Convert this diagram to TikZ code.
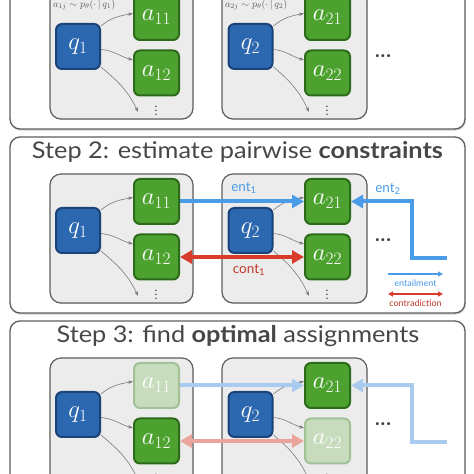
\documentclass[tikz,border=0pt]{standalone}
\usepackage{fontspec}
\setmainfont{Lato}
\setsansfont{Lato}
\newfontfamily\titlefont[FakeStretch=1.1]{Lato}
\usetikzlibrary{arrows.meta,shadows}
\definecolor{qblue}{HTML}{2C68B0}
\definecolor{qblueD}{HTML}{1B4378}
\definecolor{agreen}{HTML}{4DA22F}
\definecolor{agreenD}{HTML}{2C6B1A}
\definecolor{fgreen}{HTML}{C6DCBD}
\definecolor{fgreenD}{HTML}{A2C197}
\definecolor{entc}{HTML}{4A9BE8}
\definecolor{contc}{HTML}{D93C2B}
\definecolor{contt}{HTML}{C0392B}
\definecolor{fentc}{HTML}{A8CBEF}
\definecolor{fcontc}{HTML}{EAA49A}
\definecolor{innerfill}{HTML}{ECECEC}
\definecolor{bord}{HTML}{5E5E5E}
\definecolor{titlec}{HTML}{474747}
\definecolor{garc}{HTML}{7A7A7A}
\tikzset{
  panelbox/.style={draw=bord, line width=1.3pt, rounded corners=10pt, fill=white,
    drop shadow={opacity=0.35, shadow xshift=0.6pt, shadow yshift=-1.6pt}},
  innerbox/.style={draw=bord, line width=1.2pt, rounded corners=11pt, fill=innerfill,
    drop shadow={opacity=0.2, shadow xshift=0.4pt, shadow yshift=-1pt}},
  qbox/.style={draw=qblueD, line width=2pt, fill=qblue, rounded corners=6pt,
    minimum width=44pt, minimum height=45pt, inner sep=0pt, text=white,
    font=\fontsize{23.5}{23.5}\selectfont},
  abox/.style={draw=agreenD, line width=2pt, fill=agreen, rounded corners=6pt,
    minimum width=45pt, minimum height=45pt, inner sep=0pt, text=white,
    font=\fontsize{23.5}{23.5}\selectfont},
  fadebox/.style={abox, draw=fgreenD, fill=fgreen},
  garrow/.style={draw=garc, line width=0.6pt, -{Stealth[length=5pt,width=3.5pt]}},
  vdotsn/.style={inner sep=0pt, text=black!75, font=\fontsize{12}{12}\selectfont},
  hdotsn/.style={inner sep=0pt, text=black!75, font=\fontsize{8}{8}\selectfont},
  titletext/.style={text=titlec, font=\titlefont\fontsize{23}{23}\selectfont, inner sep=0pt},
  smalllab/.style={text=black!65, font=\fontsize{9.8}{9.8}\selectfont, inner sep=0pt, anchor=west},
  entarrow/.style={draw=entc, line width=4pt, -{Triangle[length=12pt,width=13pt]}},
  contarrow/.style={draw=contc, line width=4pt, {Triangle[length=12pt,width=13pt]}-{Triangle[length=12pt,width=13pt]}},
  fentarrow/.style={entarrow, draw=fentc},
  fcontarrow/.style={contarrow, draw=fcontc},
  annot/.style={font=\fontsize{13.5}{13.5}\selectfont, inner sep=0pt},
  legtext/.style={font=\fontsize{9}{9}\selectfont, inner sep=0pt},
  legent/.style={draw=entc, line width=1.2pt, -{Triangle[length=5pt,width=5pt]}},
  legcont/.style={draw=contc, line width=1.2pt, {Triangle[length=5pt,width=5pt]}-{Triangle[length=5pt,width=5pt]}},
}
% #1 suffix, #2..#5 styles of a11 a12 a21 a22
\newcommand\drawpanel[5]{%
  \draw[innerbox] (50,171) rectangle (193,300);
  \draw[innerbox] (222,171) rectangle (367,300);
  \node[qbox] (q1#1) at (78,243.5) {$q_1$};
  \node[#2] (a11#1) at (156.5,272.5) {$a_{11}$};
  \node[#3] (a12#1) at (156.5,217) {$a_{12}$};
  \node[vdotsn] (d1#1) at (156,182) {$\vdots$};
  \node[qbox] (q2#1) at (250.5,243.5) {$q_2$};
  \node[#4] (a21#1) at (327.5,272.5) {$a_{21}$};
  \node[#5] (a22#1) at (327.5,217) {$a_{22}$};
  \node[vdotsn] (d2#1) at (327,182) {$\vdots$};
  \node[hdotsn] (h#1) at (383,233) {\textbullet\hspace{1pt}\textbullet\hspace{1pt}\textbullet};
  \coordinate (t1#1) at (138,178);
  \coordinate (t2#1) at (309,178);
  \draw[garrow] ([yshift=-3pt]q1#1.north east) to[out=40,in=190] ([yshift=4pt]a11#1.west);
  \draw[garrow] ([yshift=-3pt]q1#1.east) to[out=-5,in=165] ([yshift=13pt]a12#1.west);
  \draw[garrow] ([yshift=3pt]q1#1.south east) to[out=-40,in=115] (t1#1);
  \draw[garrow] ([yshift=-3pt]q2#1.north east) to[out=40,in=190] ([yshift=4pt]a21#1.west);
  \draw[garrow] ([yshift=-3pt]q2#1.east) to[out=-5,in=165] ([yshift=13pt]a22#1.west);
  \draw[garrow] ([yshift=3pt]q2#1.south east) to[out=-40,in=115] (t2#1);
}
\begin{document}
\begin{tikzpicture}[x=1pt,y=1pt]
\useasboundingbox (0,0) rectangle (474,474);
\clip (0,0) rectangle (474,474);
\fill[white] (0,0) rectangle (474,474);
% ---------- Step 1 (top, cropped) ----------
\begin{scope}[yshift=184pt]
  \draw[panelbox] (10,161) rectangle (465,340);
  \drawpanel{A}{abox}{abox}{abox}{abox}
  \node[smalllab] (l1A) at (53,285) {$a_{1j}\sim p_\theta(\cdot\,|\,q_1)$};
  \node[smalllab] (l2A) at (225,285) {$a_{2j}\sim p_\theta(\cdot\,|\,q_2)$};
\end{scope}
% ---------- Step 2 ----------
\draw[panelbox] (10,161) rectangle (465,337);
\node[titletext] (title2) at (237.5,322) {Step 2: estimate pairwise \textbf{constraints}};
\drawpanel{B}{abox}{abox}{abox}{abox}
\draw[entarrow] (a11B.east) -- (a21B.west);
\coordinate (e2B) at (447,216);
\coordinate (k2B) at (412,216);
\draw[entarrow] (e2B) -- (k2B) |- (a21B.east);
\draw[contarrow] (a12B.east) -- (a22B.west);
\node[annot, text=entc] (ent1) at (244,286) {ent\textsubscript{1}};
\node[annot, text=entc] (ent2) at (388,285) {ent\textsubscript{2}};
\node[annot, text=contt] (cont1) at (249,204) {cont\textsubscript{1}};
\coordinate (le1) at (388,200);
\coordinate (le2) at (443,200);
\draw[legent] (le1) -- (le2);
\node[legtext, text=entc] (lt1) at (415.5,191) {entailment};
\coordinate (lc1) at (388,180);
\coordinate (lc2) at (443,180);
\draw[legcont] (lc1) -- (lc2);
\node[legtext, text=contt] (lt2) at (415.5,171) {contradiction};
% ---------- Step 3 (bottom, cropped) ----------
\begin{scope}[yshift=-184pt]
  \draw[panelbox] (10,-40) rectangle (465,337);
  \node[titletext] (title3) at (238,322) {Step 3: find \textbf{optimal} assignments};
  \drawpanel{C}{fadebox}{abox}{abox}{fadebox}
  \draw[fentarrow] (a11C.east) -- (a21C.west);
  \coordinate (e2C) at (447,216);
  \coordinate (k2C) at (412,216);
  \draw[fentarrow] (e2C) -- (k2C) |- (a21C.east);
  \draw[fcontarrow] (a12C.east) -- (a22C.west);
\end{scope}
\end{tikzpicture}
\end{document}
